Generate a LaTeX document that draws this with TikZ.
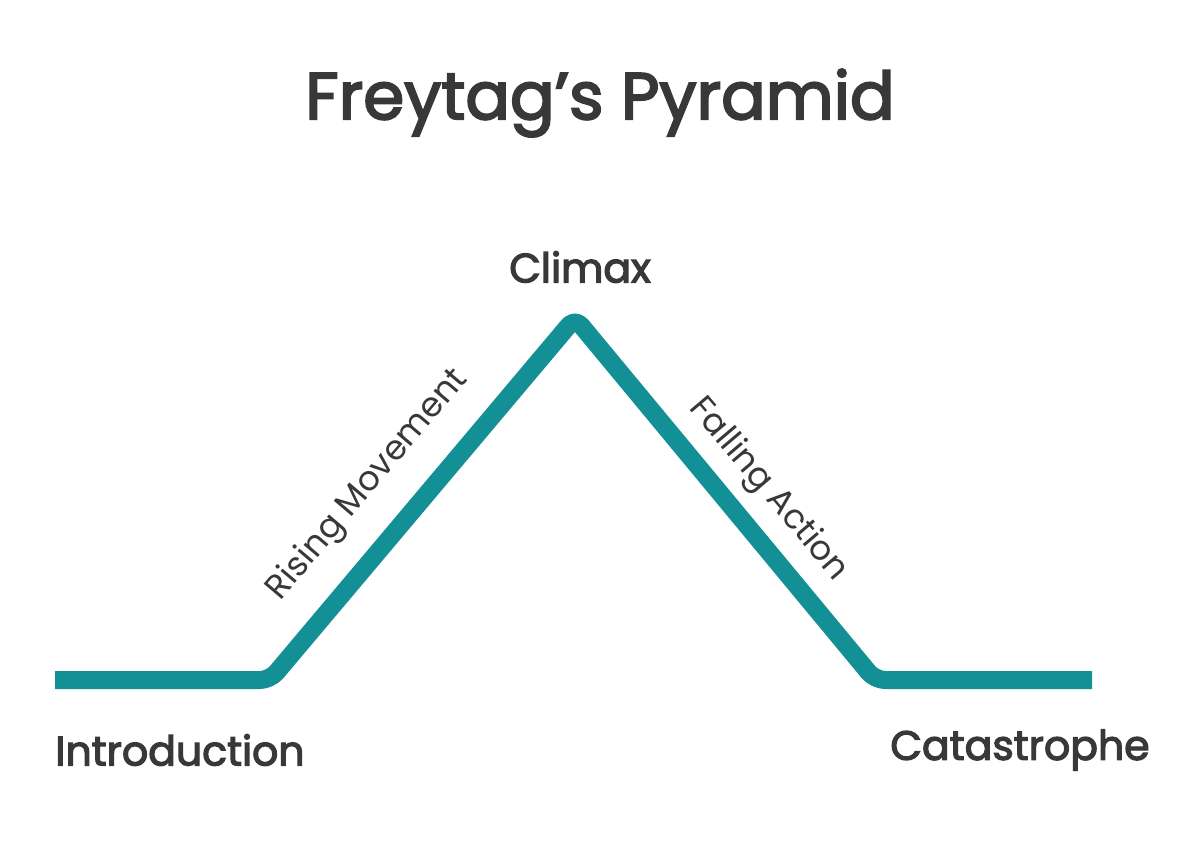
\documentclass[tikz,border=0pt]{standalone}
\usepackage{fontspec}
\setmainfont{Poppins}
\newfontfamily\medfont{Poppins}[FakeBold=3]
\begin{document}
\begin{tikzpicture}[x=0.5pt,y=-0.5pt,
  lbl/.style={text=black!78,font=\fontsize{20.5}{24}\selectfont\medfont},
  side/.style={text=black!78,font=\fontsize{17}{20}\selectfont}]
\definecolor{teal1}{HTML}{138F96}
\useasboundingbox (0,0) rectangle (1200,843);
\coordinate (a) at (55,680);
\coordinate (b) at (270,680);
\coordinate (p) at (575,318);
\coordinate (c) at (875,680);
\coordinate (d) at (1092,680);
\draw[teal1,line width=9pt,rounded corners=5pt,line join=round] (a) -- (b) -- (p) -- (c) -- (d);
\node[text=black!78,font=\fontsize{33}{38}\selectfont\medfont] (t) at (600,103) {Freytag’s Pyramid};
\node[lbl] (cl) at (580,267) {Climax};
\node[lbl] (in) at (180,750) {Introduction};
\node[lbl] (ca) at (1020,750) {Catastrophe};
\node[side,rotate=49.7] (r) at (368,485) {Rising Movement};
\node[side,rotate=-49.7] (f) at (768,490) {Falling Action};
\end{tikzpicture}
\end{document}
